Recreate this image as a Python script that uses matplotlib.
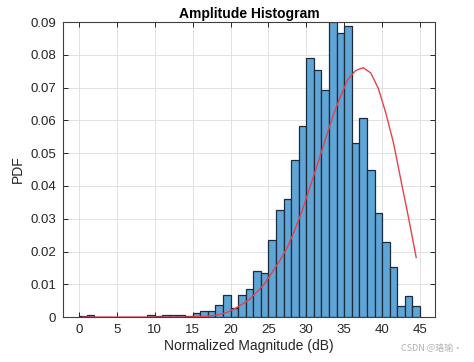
import matplotlib.pyplot as plt
import numpy as np

# histogram bins (1 dB wide, 0..45) and their PDF heights
bin_edges = list(range(0, 46))
pdf_heights = [0.0003, 0.0005, 0, 0, 0, 0, 0, 0, 0, 0.0005,
               0.0003, 0.0005, 0.0005, 0.0005, 0.0002, 0.0014, 0.0020, 0.0020, 0.0036, 0.0067,
               0.0028, 0.0067, 0.0086, 0.0141, 0.0135, 0.0235, 0.0326, 0.0359, 0.0479, 0.0582,
               0.0791, 0.0753, 0.0693, 0.0899, 0.0868, 0.0889, 0.0531, 0.0606, 0.0450, 0.0317,
               0.0230, 0.0152, 0.0033, 0.0063, 0.0033]

# fitted curve sampled at bin centres
fit_x = [i + 0.5 for i in range(45)]
fit_y = [0, 0, 0, 0, 0, 0, 0, 0, 0, 0,
         0, 0, 0, 0, 0.00003, 0.0001, 0.0002, 0.0004, 0.0008, 0.0014,
         0.0025, 0.0039, 0.0054, 0.0077, 0.0102, 0.0137, 0.0172, 0.0213, 0.0266, 0.0328,
         0.0398, 0.0468, 0.0541, 0.0612, 0.0673, 0.0726, 0.0752, 0.0761, 0.0745, 0.0698,
         0.0622, 0.0532, 0.0416, 0.0302, 0.0182]

plt.rcParams['font.family'] = ['Liberation Sans', 'DejaVu Sans']
txt = '#262626'

fig = plt.figure(figsize=(4.74, 3.62), dpi=100)
ax = fig.add_axes([0.133, 0.124, 0.785, 0.815])

ax.bar(bin_edges[:-1], pdf_heights, width=1.0, align='edge',
       color='#5fa5d6', edgecolor='#1c2c3c', linewidth=0.9, zorder=2)
ax.plot(fit_x, fit_y, color='#e8404c', linewidth=1.0, zorder=3)

ax.set_xlim(-2.1, 47.0)
ax.set_ylim(0, 0.09)
ax.set_xticks(range(0, 46, 5))
ax.set_yticks(np.arange(0, 0.091, 0.01))
ax.set_yticklabels(['0'] + ['%.2f' % v for v in np.arange(0.01, 0.091, 0.01)])

ax.grid(True, color='#e2e2e2', linewidth=0.7, zorder=0)
ax.set_axisbelow(True)
ax.tick_params(direction='in', top=True, right=True, length=3.5, width=0.7,
               colors=txt, labelsize=9.5, pad=5)
for s in ax.spines.values():
    s.set_color('#404040')
    s.set_linewidth(0.8)

ax.set_title('Amplitude Histogram', fontsize=10, fontweight='bold', color='black', pad=3)
ax.set_xlabel('Normalized Magnitude (dB)', fontsize=10, color=txt, labelpad=2)
ax.set_ylabel('PDF', fontsize=10, color=txt, labelpad=4)

fig.text(0.975, 0.03, 'CSDN @珞瑜·', fontsize=6.5, color='#b0b0b0', ha='right',
         family=['Noto Sans CJK SC', 'DejaVu Sans'])

fig.savefig('out.png', dpi=100)
